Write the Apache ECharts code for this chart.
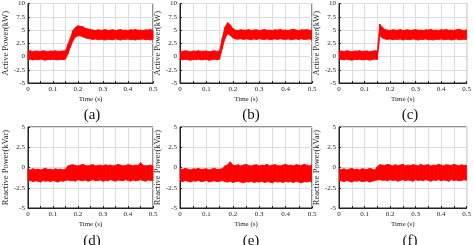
<!DOCTYPE html>
<html>
<head>
<meta charset="utf-8">
<script src="https://cdn.jsdelivr.net/npm/echarts@6.0.0/dist/echarts.min.js"></script>
<style>
  html, body { margin: 0; padding: 0; background: #fff; }
  #root { width: 474px; height: 245px; }
</style>
</head>
<body>
<div id="root"></div>
<script>
// sample times (s)
const TIME = [
  0, 0.01, 0.02, 0.03, 0.04, 0.05, 0.06, 0.07, 0.08, 0.09,
  0.1, 0.11, 0.12, 0.13, 0.14, 0.15, 0.16, 0.17, 0.18, 0.19,
  0.2, 0.21, 0.22, 0.23, 0.24, 0.25, 0.26, 0.27, 0.28, 0.29,
  0.3, 0.31, 0.32, 0.33, 0.34, 0.35, 0.36, 0.37, 0.38, 0.39,
  0.4, 0.41, 0.42, 0.43, 0.44, 0.45, 0.46, 0.47, 0.48, 0.49,
  0.5
]

// upper / lower edge of the noisy band, per panel
const A_UPPER = [
  1.0, 1.1, 0.9, 1.05, 1.0, 0.95, 1.1, 1.0, 0.9, 1.05,
  1.0, 1.1, 0.95, 1.0, 1.05, 1.1, 2.3, 3.6, 4.9, 5.5,
  5.8, 5.7, 5.6, 5.3, 5.2, 5.1, 5.0, 4.9, 5.05, 4.95,
  5.0, 5.1, 4.9, 5.0, 5.05, 4.9, 5.0, 5.1, 4.95, 5.0,
  4.9, 5.05, 5.0, 5.1, 4.95, 5.0, 4.9, 5.05, 5.0, 5.1,
  4.95
]
const A_LOWER = [
  -0.6, -0.5, -0.65, -0.55, -0.6, -0.5, -0.6, -0.7, -0.55, -0.6,
  -0.5, -0.6, -0.65, -0.55, -0.6, -0.5, 0.5, 1.8, 3.0, 3.7,
  3.9, 3.9, 3.7, 3.5, 3.4, 3.3, 3.2, 3.3, 3.15, 3.25,
  3.2, 3.1, 3.25, 3.2, 3.15, 3.3, 3.2, 3.1, 3.25, 3.2,
  3.3, 3.15, 3.2, 3.1, 3.25, 3.2, 3.3, 3.15, 3.2, 3.1,
  3.25
]
const B_UPPER = [
  1.05, 0.95, 1.1, 1.0, 0.9, 1.05, 1.0, 1.1, 0.95, 1.0,
  1.05, 0.9, 1.0, 1.1, 0.95, 1.1, 3.5, 5.5, 6.4, 6.0,
  5.3, 5.0, 4.9, 5.05, 5.0, 4.95, 5.1, 4.9, 5.0, 5.05,
  4.9, 5.0, 5.1, 4.95, 5.0, 4.9, 5.05, 5.0, 5.1, 4.95,
  5.0, 4.9, 5.05, 5.15, 5.0, 4.9, 5.05, 5.0, 5.1, 4.95,
  5.0
]
const B_LOWER = [
  -0.55, -0.65, -0.5, -0.6, -0.7, -0.55, -0.6, -0.5, -0.65, -0.6,
  -0.55, -0.7, -0.6, -0.5, -0.65, -0.5, 1.5, 3.3, 4.3, 4.0,
  3.5, 3.3, 3.25, 3.35, 3.2, 3.3, 3.25, 3.15, 3.3, 3.2,
  3.35, 3.25, 3.2, 3.3, 3.15, 3.25, 3.3, 3.2, 3.35, 3.25,
  3.2, 3.3, 3.15, 3.25, 3.3, 3.2, 3.35, 3.2, 3.25, 3.3,
  3.2
]
const C_UPPER = [
  1.0, 1.05, 0.95, 1.1, 1.0, 0.9, 1.05, 1.0, 1.1, 0.95,
  1.0, 1.05, 0.9, 1.0, 1.1, 1.05, 6.1, 5.5, 5.1, 5.0,
  4.9, 5.05, 5.0, 4.95, 5.1, 4.9, 5.0, 5.05, 4.9, 5.0,
  5.1, 4.95, 5.0, 4.9, 5.05, 5.0, 5.1, 4.95, 5.0, 4.9,
  5.05, 5.0, 5.1, 4.95, 5.0, 4.9, 5.05, 5.15, 5.0, 4.9,
  5.05
]
const C_LOWER = [
  -0.6, -0.55, -0.65, -0.5, -0.6, -0.7, -0.55, -0.6, -0.5, -0.65,
  -0.6, -0.55, -0.7, -0.6, -0.5, -0.55, 3.9, 3.5, 3.3, 3.2,
  3.3, 3.15, 3.25, 3.2, 3.3, 3.1, 3.25, 3.2, 3.15, 3.3,
  3.2, 3.1, 3.25, 3.2, 3.3, 3.15, 3.2, 3.1, 3.25, 3.2,
  3.3, 3.15, 3.2, 3.25, 3.1, 3.2, 3.3, 3.15, 3.2, 3.25,
  3.2
]
const D_UPPER = [
  -0.2, -0.3, -0.15, -0.25, -0.2, -0.3, -0.2, -0.1, -0.25, -0.2,
  -0.3, -0.15, -0.25, -0.2, -0.3, -0.2, 0.2, 0.3, 0.35, 0.25,
  0.2, 0.3, 0.4, 0.25, 0.2, 0.3, 0.35, 0.2, 0.25, 0.3,
  0.2, 0.35, 0.25, 0.3, 0.2, 0.25, 0.4, 0.3, 0.2, 0.25,
  0.35, 0.3, 0.2, 0.3, 0.25, 0.6, 0.3, 0.2, 0.25, 0.3,
  0.2
]
const D_LOWER = [
  -1.7, -1.6, -1.75, -1.65, -1.7, -1.8, -1.6, -1.7, -1.65, -1.75,
  -1.6, -1.7, -1.8, -1.65, -1.7, -1.6, -1.55, -1.65, -1.6, -1.7,
  -1.5, -1.6, -1.65, -1.55, -1.7, -1.6, -1.5, -1.65, -1.6, -1.55,
  -1.7, -1.6, -1.65, -1.5, -1.6, -1.7, -1.55, -1.6, -1.65, -1.5,
  -1.6, -1.7, -1.55, -1.65, -1.6, -1.5, -1.6, -1.7, -1.55, -1.6,
  -1.65
]
const E_UPPER = [
  -0.15, -0.25, -0.1, -0.2, -0.3, -0.15, -0.2, -0.1, -0.25, -0.2,
  -0.15, -0.3, -0.2, -0.1, -0.25, -0.2, -0.15, 0.2, 0.3, 0.7,
  0.3, 0.25, 0.35, 0.2, 0.3, 0.4, 0.25, 0.2, 0.3, 0.35,
  0.2, 0.3, 0.25, 0.4, 0.2, 0.3, 0.35, 0.25, 0.2, 0.3,
  0.4, 0.25, 0.3, 0.2, 0.35, 0.3, 0.25, 0.4, 0.3, 0.2,
  0.3
]
const E_LOWER = [
  -1.65, -1.75, -1.6, -1.7, -1.8, -1.65, -1.7, -1.6, -1.75, -1.7,
  -1.6, -1.8, -1.7, -1.65, -1.75, -1.7, -1.6, -1.75, -1.8, -1.7,
  -1.85, -1.75, -1.7, -1.8, -1.9, -1.75, -1.8, -1.7, -1.85, -1.75,
  -1.8, -1.7, -1.85, -1.75, -1.8, -1.9, -1.7, -1.8, -1.75, -1.85,
  -1.7, -1.8, -1.75, -1.85, -1.7, -1.8, -1.9, -1.75, -1.8, -1.7,
  -1.8
]
const F_UPPER = [
  -0.2, -0.25, -0.15, -0.3, -0.2, -0.1, -0.25, -0.2, -0.3, -0.15,
  -0.2, -0.25, -0.1, -0.2, -0.3, 0.1, 0.35, 0.3, 0.25, 0.4,
  0.3, 0.2, 0.35, 0.25, 0.3, 0.4, 0.2, 0.3, 0.25, 0.35,
  0.3, 0.2, 0.4, 0.25, 0.3, 0.35, 0.2, 0.3, 0.25, 0.4,
  0.3, 0.2, 0.35, 0.3, 0.25, 0.4, 0.3, 0.2, 0.35, 0.25,
  0.3
]
const F_LOWER = [
  -1.7, -1.65, -1.75, -1.6, -1.7, -1.8, -1.65, -1.7, -1.6, -1.75,
  -1.7, -1.65, -1.8, -1.7, -1.6, -1.55, -1.5, -1.6, -1.55, -1.65,
  -1.5, -1.6, -1.55, -1.7, -1.6, -1.5, -1.65, -1.55, -1.6, -1.7,
  -1.5, -1.6, -1.55, -1.65, -1.5, -1.6, -1.7, -1.55, -1.6, -1.5,
  -1.65, -1.55, -1.6, -1.7, -1.5, -1.6, -1.55, -1.65, -1.6, -1.5,
  -1.6
]

const PANEL_LABELS = ['(a)', '(b)', '(c)', '(d)', '(e)', '(f)']
const Y_NAMES = ['Active Power(kW)', 'Reactive Power(kVar)']
const X_NAME = 'Time (s)'
const Y_RANGES = [[-5, 10], [-5, 5]]

const panels = [
  { upper: A_UPPER, lower: A_LOWER },
  { upper: B_UPPER, lower: B_LOWER },
  { upper: C_UPPER, lower: C_LOWER },
  { upper: D_UPPER, lower: D_LOWER },
  { upper: E_UPPER, lower: E_LOWER },
  { upper: F_UPPER, lower: F_LOWER }
]

const SERIF = 'Liberation Serif'
const COL_LEFT = [21, 180, 339]
const ROW_TOP = [2, 127]
const PLOT_W = 132
const PLOT_H = 81
const RED = '#ff0000'

// one band segment per pair of neighbouring samples: [t0, lo0, up0, t1, lo1, up1]
const bandSegments = p => TIME.slice(0, -1).map((t, k) =>
  [t, p.lower[k], p.upper[k], TIME[k + 1], p.lower[k + 1], p.upper[k + 1]])

const renderBand = (params, api) => {
  const a = api.coord([api.value(0), api.value(1)])
  const b = api.coord([api.value(3), api.value(4)])
  const c = api.coord([api.value(3), api.value(5)])
  const d = api.coord([api.value(0), api.value(2)])
  return {
    type: 'polygon',
    shape: { points: [a, b, c, d] },
    style: { fill: RED, stroke: RED, lineWidth: 0.8 }
  }
}

const grids = []
const xAxes = []
const yAxes = []
const series = []
const titles = []

panels.forEach((p, i) => {
  const row = i < 3 ? 0 : 1
  const col = i % 3
  grids.push({
    left: COL_LEFT[col], top: ROW_TOP[row], width: PLOT_W, height: PLOT_H,
    show: true, borderColor: '#222', borderWidth: 1, backgroundColor: '#fff'
  })
  xAxes.push({
    gridIndex: i, type: 'value', min: 0, max: 0.5, interval: 0.05,
    name: X_NAME, nameLocation: 'middle', nameGap: 13,
    nameTextStyle: { fontFamily: SERIF, fontSize: 7, color: '#222' },
    axisLine: { onZero: false, lineStyle: { color: '#222', width: 1 } },
    axisTick: { inside: true, length: 2, lineStyle: { color: '#222' } },
    axisLabel: {
      fontFamily: SERIF, fontSize: 7, color: '#222', margin: 3,
      formatter: v => (Math.round(v * 100) % 10 === 0 ? String(+v.toFixed(1)) : '')
    },
    splitLine: { show: true, lineStyle: { color: '#dcdcdc', width: 1 } }
  })
  const yr = Y_RANGES[row]
  yAxes.push({
    gridIndex: i, type: 'value', min: yr[0], max: yr[1], interval: 2.5,
    name: Y_NAMES[row], nameLocation: 'middle', nameGap: 14,
    nameTextStyle: { fontFamily: SERIF, fontSize: 8.5, color: '#222' },
    axisLine: { onZero: false, lineStyle: { color: '#222', width: 1 } },
    axisTick: { inside: true, length: 2, lineStyle: { color: '#222' } },
    axisLabel: { fontFamily: SERIF, fontSize: 7, color: '#222', margin: 3 },
    splitLine: { show: true, lineStyle: { color: '#dcdcdc', width: 1 } }
  })
  series.push({
    type: 'custom', xAxisIndex: i, yAxisIndex: i, silent: true, clip: true,
    renderItem: renderBand,
    encode: { x: [0, 3], y: [1, 2, 4, 5] },
    data: bandSegments(p)
  })
  titles.push({
    text: PANEL_LABELS[i],
    left: COL_LEFT[col] + PLOT_W / 2, top: row === 0 ? 103 : 229,
    textAlign: 'center',
    textStyle: { fontFamily: SERIF, fontSize: 15, fontWeight: 'normal', color: '#111' }
  })
})

const chart = echarts.init(document.getElementById('root'), null, { renderer: 'canvas' })
chart.setOption({
  animation: false,
  backgroundColor: '#fff',
  title: titles,
  grid: grids,
  xAxis: xAxes,
  yAxis: yAxes,
  series
})
</script>
</body>
</html>
